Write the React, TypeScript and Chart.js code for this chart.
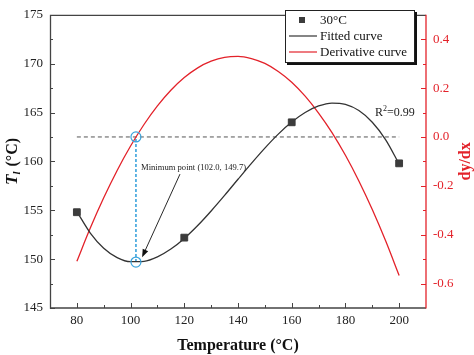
import React, { useEffect, useRef } from 'react';
import { Chart, registerables } from 'chart.js';

Chart.register(...registerables);

// ---- data ----
const pointTemps = [80, 120, 160, 200];
const pointValues = [154.8, 152.2, 164.0, 159.8];

const curveTemps = [80, 85, 90, 95, 100, 105, 110, 115, 120, 125, 130, 135, 140, 145, 150, 155, 160, 165, 170, 175, 180, 185, 190, 195, 200];
const fittedValues = [154.87, 152.67, 151.12, 150.16, 149.74, 149.78, 150.23, 151.03, 152.12, 153.44, 154.93, 156.52, 158.17, 159.8, 161.36, 162.79, 164.02, 165.0, 165.67, 165.97, 165.83, 165.2, 164.01, 162.21, 159.73];
const derivativeValues = [-0.509, -0.373, -0.249, -0.137, -0.037, 0.051, 0.127, 0.191, 0.243, 0.283, 0.31, 0.326, 0.33, 0.321, 0.301, 0.268, 0.224, 0.167, 0.098, 0.018, -0.075, -0.18, -0.297, -0.426, -0.567];

const zeroLineTemps = [80, 200];
const zeroLineValues = [0, 0];

const minPoint = { x: 102.0, y: 149.7 };
const minLabel = 'Minimum point (102.0, 149.7)';
const arrowStart = { x: 118.4, y: 158.7 };
const arrowTip = { x: 104.3, y: 150.2 };
const labelAnchor = { x: 103.9, y: 159.4 };
const r2Anchor = { x: 191, y: 165.1 };

const xTicks = [80, 100, 120, 140, 160, 180, 200];
const xMinorTicks = [90, 110, 130, 150, 170, 190];
const leftTicks = [145, 150, 155, 160, 165, 170, 175];
const leftMinorTicks = [147.5, 152.5, 157.5, 162.5, 167.5, 172.5];
const rightTicks = [-0.6, -0.4, -0.2, 0, 0.2, 0.4];
const rightMinorTicks = [-0.5, -0.3, -0.1, 0.1, 0.3];

const seriesLabels = ['30°C', 'Fitted curve', 'Derivative curve'];

const FONT = "'Liberation Serif', 'Times New Roman', serif";
const RED = '#e3222a';
const BLUE = '#3aa3dc';
const DARK = '#3c3c3c';
const TEXT = '#222222';

const overlayPlugin = {
  id: 'overlay',
  beforeDatasetsDraw(chart: any) {
    const { ctx, scales } = chart;
    const { x, y, y1 } = scales;
    const px = x.getPixelForValue(minPoint.x);
    ctx.save();
    ctx.strokeStyle = BLUE;
    ctx.lineWidth = 1.6;
    ctx.setLineDash([3, 2]);
    ctx.beginPath();
    ctx.moveTo(px, y.getPixelForValue(minPoint.y));
    ctx.lineTo(px, y1.getPixelForValue(0));
    ctx.stroke();
    ctx.restore();
  },
  afterDraw(chart: any) {
    const { ctx, chartArea, scales } = chart;
    const { x, y, y1 } = scales;
    const { left, right, top, bottom } = chartArea;
    ctx.save();
    // frame
    ctx.lineWidth = 1.3;
    ctx.strokeStyle = '#444';
    ctx.beginPath();
    ctx.moveTo(right, top + 0.5);
    ctx.lineTo(left + 0.5, top + 0.5);
    ctx.lineTo(left + 0.5, bottom);
    ctx.lineTo(right, bottom);
    ctx.stroke();
    ctx.strokeStyle = RED;
    ctx.beginPath();
    ctx.moveTo(right, top);
    ctx.lineTo(right, bottom + 0.5);
    ctx.stroke();

    // inward ticks
    ctx.lineWidth = 1;
    ctx.strokeStyle = '#444';
    const drawX = (vals: number[], len: number) => {
      vals.forEach((v) => {
        const p = Math.round(x.getPixelForValue(v)) + 0.5;
        ctx.beginPath();
        ctx.moveTo(p, bottom);
        ctx.lineTo(p, bottom - len);
        ctx.stroke();
      });
    };
    drawX(xTicks, 5);
    drawX(xMinorTicks, 3);
    const drawL = (vals: number[], len: number) => {
      vals.forEach((v) => {
        const p = Math.round(y.getPixelForValue(v)) + 0.5;
        ctx.beginPath();
        ctx.moveTo(left, p);
        ctx.lineTo(left + len, p);
        ctx.stroke();
      });
    };
    drawL(leftTicks, 5);
    drawL(leftMinorTicks, 3);
    ctx.strokeStyle = RED;
    const drawR = (vals: number[], len: number) => {
      vals.forEach((v) => {
        const p = Math.round(y1.getPixelForValue(v)) + 0.5;
        ctx.beginPath();
        ctx.moveTo(right, p);
        ctx.lineTo(right - len, p);
        ctx.stroke();
      });
    };
    drawR(rightTicks, 5);
    drawR(rightMinorTicks, 3);

    // x title
    ctx.fillStyle = '#111';
    ctx.font = `bold 16px ${FONT}`;
    ctx.textAlign = 'center';
    ctx.textBaseline = 'middle';
    ctx.fillText('Temperature (°C)', (left + right) / 2, 346);

    // left title: T_l (°C)
    const cy = (top + bottom) / 2;
    ctx.save();
    ctx.translate(11, cy);
    ctx.rotate(-Math.PI / 2);
    ctx.textBaseline = 'alphabetic';
    ctx.textAlign = 'left';
    const fT = `italic bold 17px ${FONT}`;
    const fSub = `italic bold 11px ${FONT}`;
    const fRest = `bold 16px ${FONT}`;
    ctx.font = fT;
    const wT = ctx.measureText('T').width;
    ctx.font = fSub;
    const wS = ctx.measureText('l').width;
    ctx.font = fRest;
    const wR = ctx.measureText(' (°C)').width;
    const total = wT + wS + 1 + wR;
    let cx = -total / 2;
    const base = 6;
    ctx.font = fT;
    ctx.fillText('T', cx, base);
    cx += wT;
    ctx.font = fSub;
    ctx.fillText('l', cx, base + 3);
    cx += wS + 1;
    ctx.font = fRest;
    ctx.fillText(' (°C)', cx, base);
    ctx.restore();

    // right title
    ctx.save();
    ctx.translate(466, cy);
    ctx.rotate(-Math.PI / 2);
    ctx.fillStyle = RED;
    ctx.font = `bold 16px ${FONT}`;
    ctx.textAlign = 'center';
    ctx.textBaseline = 'middle';
    ctx.fillText('dy/dx', 0, 0);
    ctx.restore();

    // annotation
    ctx.fillStyle = TEXT;
    ctx.font = `8.6px ${FONT}`;
    ctx.textAlign = 'left';
    ctx.textBaseline = 'middle';
    ctx.fillText(minLabel, x.getPixelForValue(labelAnchor.x), y.getPixelForValue(labelAnchor.y));
    const sx = x.getPixelForValue(arrowStart.x);
    const sy = y.getPixelForValue(arrowStart.y);
    const tx = x.getPixelForValue(arrowTip.x);
    const ty = y.getPixelForValue(arrowTip.y);
    const ang = Math.atan2(ty - sy, tx - sx);
    ctx.strokeStyle = '#111';
    ctx.lineWidth = 0.9;
    ctx.beginPath();
    ctx.moveTo(sx, sy);
    ctx.lineTo(tx - 5 * Math.cos(ang), ty - 5 * Math.sin(ang));
    ctx.stroke();
    ctx.fillStyle = '#111';
    ctx.beginPath();
    ctx.moveTo(tx, ty);
    ctx.lineTo(tx - 8 * Math.cos(ang) + 3 * Math.sin(ang), ty - 8 * Math.sin(ang) - 3 * Math.cos(ang));
    ctx.lineTo(tx - 8 * Math.cos(ang) - 3 * Math.sin(ang), ty - 8 * Math.sin(ang) + 3 * Math.cos(ang));
    ctx.closePath();
    ctx.fill();

    // R^2 label
    const rx = x.getPixelForValue(r2Anchor.x);
    const ry = y.getPixelForValue(r2Anchor.y);
    ctx.fillStyle = TEXT;
    ctx.font = `12px ${FONT}`;
    ctx.textBaseline = 'alphabetic';
    ctx.fillText('R', rx, ry + 4);
    const wRr = ctx.measureText('R').width;
    ctx.font = `8px ${FONT}`;
    ctx.fillText('2', rx + wRr, ry - 1);
    const w2 = ctx.measureText('2').width;
    ctx.font = `12px ${FONT}`;
    ctx.fillText('=0.99', rx + wRr + w2, ry + 4);

    // legend
    const bx = 285, by = 10, bw = 129, bh = 52;
    ctx.fillStyle = '#111';
    ctx.fillRect(bx + 2, by + 2, bw + 1, bh + 1);
    ctx.fillStyle = '#fff';
    ctx.fillRect(bx, by, bw, bh);
    ctx.strokeStyle = '#222';
    ctx.lineWidth = 1;
    ctx.strokeRect(bx + 0.5, by + 0.5, bw, bh);
    const rows = [20, 36, 52];
    ctx.fillStyle = DARK;
    ctx.fillRect(299, rows[0] - 3, 6, 6);
    ctx.lineWidth = 1.2;
    ctx.strokeStyle = '#333';
    ctx.beginPath();
    ctx.moveTo(289, rows[1]);
    ctx.lineTo(317, rows[1]);
    ctx.stroke();
    ctx.strokeStyle = RED;
    ctx.beginPath();
    ctx.moveTo(289, rows[2]);
    ctx.lineTo(317, rows[2]);
    ctx.stroke();
    ctx.fillStyle = '#111';
    ctx.font = `13px ${FONT}`;
    ctx.textBaseline = 'middle';
    ctx.textAlign = 'left';
    seriesLabels.forEach((l, i) => ctx.fillText(l, 320, rows[i] + 1));

    ctx.restore();
  },
};

export default function App() {
  const ref = useRef<HTMLCanvasElement | null>(null);
  useEffect(() => {
    document.body.style.margin = '0';
    const canvas = ref.current;
    if (!canvas) return;
    const toXY = (xs: number[], ys: number[]) => xs.map((v, i) => ({ x: v, y: ys[i] }));
    const chart = new Chart(canvas, {
      type: 'line',
      data: {
        datasets: [
          {
            label: seriesLabels[0],
            data: toXY(pointTemps, pointValues),
            showLine: false,
            pointStyle: 'rect',
            pointRadius: 4.8,
            pointBackgroundColor: DARK,
            pointBorderColor: DARK,
            borderColor: DARK,
            yAxisID: 'y',
          },
          {
            label: 'min',
            data: [minPoint],
            showLine: false,
            pointStyle: 'circle',
            pointRadius: 5,
            pointBorderWidth: 1.2,
            pointBackgroundColor: 'rgba(0,0,0,0)',
            pointBorderColor: BLUE,
            yAxisID: 'y',
          },
          {
            label: 'zero',
            data: [{ x: minPoint.x, y: 0 }],
            showLine: false,
            pointStyle: 'circle',
            pointRadius: 5,
            pointBorderWidth: 1.2,
            pointBackgroundColor: 'rgba(0,0,0,0)',
            pointBorderColor: BLUE,
            yAxisID: 'y1',
          },
          {
            label: seriesLabels[1],
            data: toXY(curveTemps, fittedValues),
            borderColor: '#333',
            borderWidth: 1.3,
            pointRadius: 0,
            cubicInterpolationMode: 'monotone',
            yAxisID: 'y',
          },
          {
            label: seriesLabels[2],
            data: toXY(curveTemps, derivativeValues),
            borderColor: RED,
            borderWidth: 1.3,
            pointRadius: 0,
            cubicInterpolationMode: 'monotone',
            yAxisID: 'y1',
          },
          {
            label: 'zeroLine',
            data: toXY(zeroLineTemps, zeroLineValues),
            borderColor: '#555',
            borderWidth: 1,
            borderDash: [4, 3],
            pointRadius: 0,
            yAxisID: 'y1',
          },
        ],
      },
      options: {
        responsive: false,
        animation: false,
        layout: { padding: { top: 5, left: 0, right: 0, bottom: 0 } },
        plugins: { legend: { display: false }, tooltip: { enabled: false } },
        scales: {
          x: {
            type: 'linear',
            min: 70,
            max: 210,
            afterBuildTicks: (s: any) => {
              s.ticks = xTicks.map((v) => ({ value: v }));
            },
            afterFit: (s: any) => {
              s.height = 47;
            },
            grid: { display: false, drawTicks: false },
            border: { display: false },
            ticks: {
              autoSkip: false,
              maxRotation: 0,
              padding: 5,
              color: TEXT,
              font: { family: FONT, size: 13 },
              callback: (v: any) => String(v),
            },
          },
          y: {
            type: 'linear',
            position: 'left',
            min: 145,
            max: 175,
            afterBuildTicks: (s: any) => {
              s.ticks = leftTicks.map((v) => ({ value: v }));
            },
            afterFit: (s: any) => {
              s.width = 50;
            },
            grid: { display: false, drawTicks: false },
            border: { display: false },
            ticks: {
              autoSkip: false,
              padding: 7,
              color: TEXT,
              font: { family: FONT, size: 13 },
              callback: (v: any) => String(v),
            },
          },
          y1: {
            type: 'linear',
            position: 'right',
            min: -0.7,
            max: 0.5,
            afterBuildTicks: (s: any) => {
              s.ticks = rightTicks.map((v) => ({ value: v }));
            },
            afterFit: (s: any) => {
              s.width = 48;
            },
            grid: { display: false, drawTicks: false },
            border: { display: false },
            ticks: {
              autoSkip: false,
              padding: 7,
              color: RED,
              font: { family: FONT, size: 13 },
              callback: (v: any) => Number(v).toFixed(1),
            },
          },
        },
      },
      plugins: [overlayPlugin],
    } as any);
    return () => chart.destroy();
  }, []);
  return <canvas ref={ref} width={474} height={355} style={{ display: 'block' }} />;
}
